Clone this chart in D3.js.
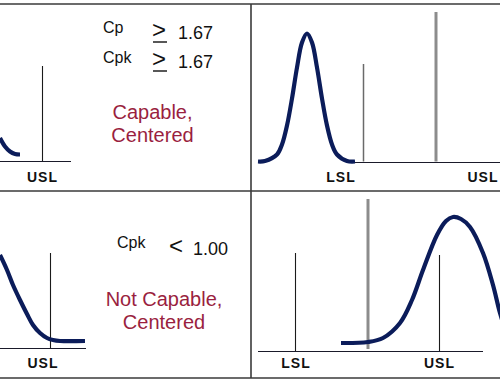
<!DOCTYPE html>
<html>
<head>
<meta charset="utf-8">
<script src="https://cdn.jsdelivr.net/npm/d3@7/dist/d3.min.js"></script>
<style>
  html, body { margin: 0; padding: 0; background: #fff; }
  svg { display: block; }
  text { font-family: "Liberation Sans", Arial, sans-serif; }
</style>
</head>
<body>
<svg id="chart" width="500" height="383"></svg>
<script>
// ---------- data (process units: x along the measurement, y = frequency) ----------
// Top-left panel: capable & centered (only the right tail visible)
const tlCurve = [[0, 2.3], [0.5, 1.45], [1.0, 0.95], [1.5, 0.7], [2.0, 0.65]];
const tlAxis = [0, 7.1];
const tlSpecs = [{ name: "USL", x: 4.2, top: 9.5, label: 4.25, kind: "thin" }];

// Top-right panel: narrow distribution shifted below LSL
const trCurve = [[0.7, 0], [1.4, 0.05], [2.6, 0.7], [3.1, 1.7], [3.6, 3.6], [4.1, 6.3], [4.6, 9.4],
  [5.1, 11.9], [5.6, 12.8], [6.1, 11.9], [6.6, 9.4], [7.1, 6.3], [7.6, 3.6], [8.1, 1.7],
  [8.6, 0.7], [9.6, 0.05], [10.4, 0]];
const trAxis = [10.4, 25];
const trSpecs = [
  { name: "LSL", x: 11.2, top: 9.75, label: 9.0, kind: "grey" },
  { name: "", x: 18.5, top: 14.95, label: null, kind: "thick" },
  { name: "USL", x: null, top: 0, label: 23.2, kind: "none" }
];

// Bottom-left panel: not capable, centered (right tail visible)
const blCurve = [[0, 9.3], [0.7, 7.8], [1.3, 6.3], [2.0, 4.8], [2.7, 3.4], [3.3, 2.3], [4.0, 1.5],
  [4.7, 1.0], [5.3, 0.8], [6.0, 0.7], [8.5, 0.7]];
const blAxis = [0, 8.6];
const blSpecs = [{ name: "USL", x: 5.0, top: 9.5, label: 4.3, kind: "thin" }];

// Bottom-right panel: wide distribution shifted above USL
const brCurve = [[9.0, 0.8], [11.7, 0.9], [13.2, 1.3], [14.9, 2.8], [16.1, 5.1], [17.2, 8.1],
  [18.6, 11.6], [19.5, 13.0], [20.2, 13.4], [21.0, 13.2], [21.9, 12.4], [23.2, 9.8],
  [24.2, 6.6], [24.9, 3.8], [25.6, 1.6]];
const brAxis = [0.7, 23.2];
const brSpecs = [
  { name: "LSL", x: 4.4, top: 9.8, label: 4.5, kind: "thin" },
  { name: "", x: 11.7, top: 15.2, bottom: 0.2, label: null, kind: "thick" },
  { name: "USL", x: 18.8, top: 9.6, label: 18.85, kind: "thin" }
];

// Capability annotations
const tlIndexNames = ["Cp", "Cpk"];
const tlIndexValues = ["1.67", "1.67"];
const tlVerdict = ["Capable,", "Centered"];
const blIndexNames = ["Cpk"];
const blIndexValues = ["1.00"];
const blVerdict = ["Not Capable,", "Centered"];

// ---------- layout ----------
const svg = d3.select("#chart");
const navy = "#0b1c5a";
const maroon = "#9a1f40";

const panels = [
  { left: 0, base: 161, curve: tlCurve, axis: tlAxis, specs: tlSpecs, labelY: 182 },
  { left: 251, base: 161.5, curve: trCurve, axis: trAxis, specs: trSpecs, labelY: 182 },
  { left: 0, base: 348, curve: blCurve, axis: blAxis, specs: blSpecs, labelY: 368 },
  { left: 251, base: 351, curve: brCurve, axis: brAxis, specs: brSpecs, labelY: 368 }
];

const crisp = v => Math.round(v) + 0.5;

panels.forEach(p => {
  const x = d3.scaleLinear().domain([0, 25]).range([p.left, p.left + 250]);
  const y = d3.scaleLinear().domain([0, 16]).range([p.base, p.base - 160]);
  const g = svg.append("g");

  // axis baseline
  g.append("line")
    .attr("x1", x(p.axis[0])).attr("x2", x(p.axis[1]))
    .attr("y1", crisp(y(0))).attr("y2", crisp(y(0)))
    .attr("stroke", "#1a1a2a").attr("stroke-width", 1.2);

  // spec / reference lines
  p.specs.forEach(s => {
    if (s.x !== null && s.kind !== "none") {
      const st = s.kind === "thick" ? { c: "#8c8c8c", w: 3 } :
                 s.kind === "grey" ? { c: "#6a6a6a", w: 1.5 } : { c: "#1a1a1a", w: 1.1 };
      const xx = s.kind === "thick" ? x(s.x) : crisp(x(s.x));
      g.append("line")
        .attr("x1", xx).attr("x2", xx)
        .attr("y1", y(s.bottom || 0)).attr("y2", y(s.top))
        .attr("stroke", st.c).attr("stroke-width", st.w);
    }
    if (s.label !== null && s.name) {
      g.append("text")
        .attr("x", x(s.label)).attr("y", p.labelY)
        .attr("text-anchor", "middle")
        .attr("font-size", 14).attr("font-weight", "bold")
        .attr("letter-spacing", 1)
        .attr("fill", "#111")
        .text(s.name);
    }
  });

  // distribution curve
  const line = d3.line().x(d => x(d[0])).y(d => y(d[1])).curve(d3.curveCatmullRom.alpha(0.5));
  g.append("path")
    .attr("d", line(p.curve))
    .attr("fill", "none").attr("stroke", navy).attr("stroke-width", 4.2)
    .attr("stroke-linecap", "butt").attr("stroke-linejoin", "round");
});

// panel borders
const border = svg.append("g").attr("stroke", "#3a3a3a").attr("stroke-width", 1.6);
border.append("line").attr("x1", 0).attr("x2", 500).attr("y1", 4).attr("y2", 4);
border.append("line").attr("x1", 0).attr("x2", 500).attr("y1", 191).attr("y2", 191);
border.append("line").attr("x1", 0).attr("x2", 500).attr("y1", 378).attr("y2", 378);
border.append("line").attr("x1", 251).attr("x2", 251).attr("y1", 4).attr("y2", 378);

// annotations
function indexRows(names, values, nameX, symX, valX, nameYs, valYs, sym, underline) {
  names.forEach((n, i) => {
    svg.append("text").attr("x", nameX).attr("y", nameYs[i])
      .attr("font-size", 16).attr("fill", "#111").text(n);
    svg.append("text").attr("x", symX).attr("y", valYs[i] - 1)
      .attr("font-size", 24).attr("fill", "#111").text(sym);
    if (underline) {
      svg.append("line").attr("x1", symX + 1).attr("x2", symX + 15)
        .attr("y1", valYs[i] + 3).attr("y2", valYs[i] + 3)
        .attr("stroke", "#111").attr("stroke-width", 1.4);
    }
    svg.append("text").attr("x", valX).attr("y", valYs[i])
      .attr("font-size", 18).attr("fill", "#111").text(values[i]);
  });
}
indexRows(tlIndexNames, tlIndexValues, 103, 152, 178, [33, 63], [39, 68], ">", true);
indexRows(blIndexNames, blIndexValues, 117, 169, 193, [248], [255], "<", false);

function verdict(lines, cx, ys) {
  lines.forEach((t, i) => {
    svg.append("text").attr("x", cx).attr("y", ys[i])
      .attr("text-anchor", "middle").attr("font-size", 20)
      .attr("fill", maroon).text(t);
  });
}
verdict(tlVerdict, 152.5, [118.5, 141.5]);
verdict(blVerdict, 164, [305.5, 328.5]);
</script>
</body>
</html>
